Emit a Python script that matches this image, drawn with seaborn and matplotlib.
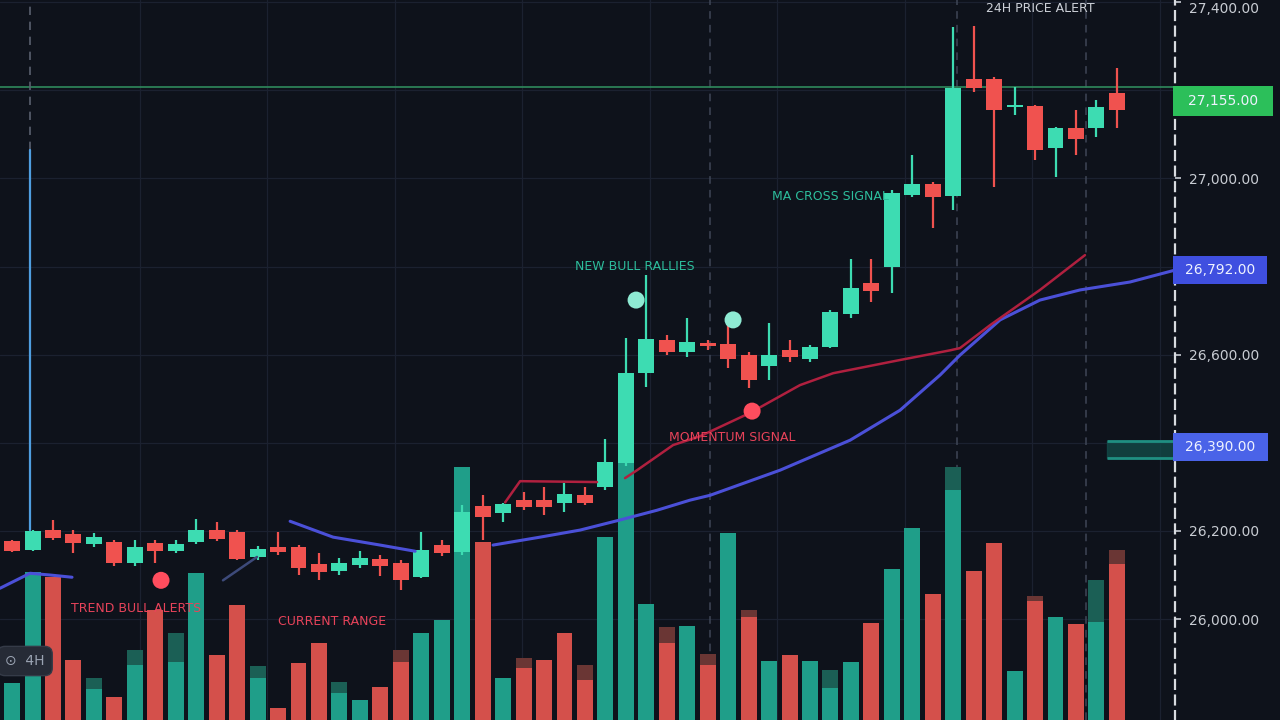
import numpy as np
import pandas as pd
import matplotlib
matplotlib.use("Agg")
import matplotlib.pyplot as plt
import matplotlib.patches as mpatches
import matplotlib.transforms as mtransforms
import seaborn as sns

# -------------------------
# Candle data (one entry per bar)
# -------------------------
opens = [26177, 26157, 26202, 26193, 26170, 26175, 26127, 26172, 26154, 26175,
         26202, 26197, 26141, 26163, 26163, 26125, 26109, 26122, 26136, 26127,
         26095, 26168, 26152, 26256, 26241, 26270, 26270, 26263, 26281, 26300,
         26354, 26558, 26633, 26606, 26626, 26624, 26599, 26574, 26610, 26590,
         26617, 26692, 26763, 26799, 26962, 26987, 26960, 27226, 27226, 27162,
         27164, 27069, 27114, 27114, 27194]
highs = [26179, 26202, 26225, 26202, 26195, 26179, 26179, 26179, 26179, 26227,
         26220, 26202, 26166, 26197, 26168, 26150, 26138, 26154, 26145, 26134,
         26197, 26179, 26259, 26281, 26263, 26288, 26300, 26309, 26300, 26408,
         26638, 26781, 26644, 26683, 26633, 26683, 26606, 26672, 26633, 26622,
         26701, 26817, 26817, 26974, 27053, 26992, 27344, 27346, 27230, 27207,
         27167, 27117, 27155, 27178, 27251]
lows = [26152, 26154, 26179, 26150, 26163, 26120, 26120, 26127, 26150, 26170,
        26177, 26134, 26134, 26145, 26100, 26088, 26100, 26116, 26097, 26066,
        26093, 26143, 26145, 26179, 26220, 26247, 26236, 26243, 26259, 26293,
        26347, 26526, 26599, 26595, 26610, 26570, 26524, 26542, 26583, 26583,
        26615, 26683, 26719, 26740, 26958, 26887, 26928, 27196, 26980, 27144,
        27042, 27003, 27053, 27094, 27114]
closes = [26154, 26200, 26184, 26172, 26186, 26127, 26163, 26154, 26170, 26202,
          26181, 26136, 26159, 26152, 26116, 26107, 26127, 26138, 26120, 26088,
          26157, 26150, 26243, 26231, 26261, 26254, 26254, 26284, 26263, 26356,
          26558, 26635, 26606, 26629, 26620, 26590, 26542, 26599, 26595, 26617,
          26697, 26751, 26744, 26967, 26987, 26958, 27205, 27205, 27155, 27167,
          27064, 27114, 27089, 27162, 27155]

volume = [37, 148, 143, 60, 31, 23, 55, 110, 58, 147, 65, 115, 42, 12, 57, 77,
          27, 20, 33, 58, 87, 100, 253, 178, 42, 52, 60, 87, 40, 183, 257, 116,
          77, 94, 55, 187, 103, 59, 65, 59, 32, 58, 97, 151, 192, 126, 230, 149,
          177, 49, 119, 103, 96, 98, 156]
# darker overhang seen on top of some volume bars
volume_prev = [0, 0, 0, 0, 42, 0, 70, 0, 87, 0, 0, 0, 54, 0, 0, 0, 38, 0, 0, 70,
               0, 0, 0, 0, 0, 62, 0, 0, 55, 0, 0, 0, 93, 0, 66, 0, 110, 0, 0, 0,
               50, 0, 0, 0, 0, 0, 253, 0, 0, 0, 124, 0, 0, 140, 170]
volume_side = list("uuddu" "duduu" "ddudd" "duudd" "uuudu" "ddddu"
                   "uudud" "ududu" "uuduu" "duddu" "dudud")

# moving averages (bar position, price)
ma_blue_x = [[-0.59, 0.88, 1.86, 2.93],
             [13.59, 15.69, 17.99, 19.70],
             [23.51, 25.81, 27.76, 29.72, 31.52, 33.14, 34.12, 37.54, 40.96,
              43.40, 45.36, 46.33, 48.29, 50.24, 52.20, 54.64, 56.84]]
ma_blue_y = [[26070, 26104, 26100, 26095],
             [26222, 26186, 26168, 26154],
             [26168, 26186, 26202, 26225, 26247, 26270, 26281, 26338, 26406,
              26474, 26554, 26599, 26679, 26724, 26747, 26765, 26792]]
ma_faint_x = [10.31, 11.97]
ma_faint_y = [26088, 26141]
ma_red_x = [[24.10, 24.83, 28.59],
            [29.96, 30.55, 32.31, 33.63, 36.07, 38.51, 40.13, 43.40, 45.85,
             46.33, 47.80, 50.24, 52.44]]
ma_red_y = [[26265, 26313, 26311],
            [26320, 26338, 26395, 26415, 26468, 26531, 26558, 26588, 26610,
             26615, 26667, 26747, 26826]]

# signal markers
marker_x = [30.50, 35.24, 36.17, 7.28]
marker_y = [26724, 26679, 26472, 26088]
marker_kind = ["bull", "bull", "bear", "bear"]

# annotations
notes = ["NEW BULL RALLIES", "MA CROSS SIGNAL", "TREND BULL ALERTS",
         "CURRENT RANGE", "MOMENTUM SIGNAL", "24H PRICE ALERT"]
notes_x = [30.45, 40.0, 6.06, 15.64, 35.19, 50.24]
notes_y = [26801, 26960, 26025, 25995, 26411, 27386]
notes_kind = ["bull", "bull", "bear", "bear", "bear", "info"]

# labels under the tags are hidden in the reference, so they stay blank
price_ticks = [26000, 26200, 26400, 26600, 26800, 27000, 27200, 27400]
price_labels = ["26,000.00", "26,200.00", "", "26,600.00",
                "", "27,000.00", "", "27,400.00"]

resistance = 27207
tag_values = [27176, 26792, 26390]
tag_texts = ["27,155.00", "26,792.00", "26,390.00"]

# -------------------------
# Style
# -------------------------
BG = "#0e121b"
UP = "#3ddcb2"
DN = "#f0524f"
VOL_UP = "#1f9e89"
VOL_DN = "#d4504b"
GRID = "#1b2130"

sns.set_theme(style="dark", rc={"axes.facecolor": BG, "figure.facecolor": BG,
                                "savefig.facecolor": BG})
plt.rcParams["font.family"] = ["DejaVu Sans"]

fig = plt.figure(figsize=(12.8, 7.2), dpi=100)
ax_vol = fig.add_axes([0, 0, 1175 / 1280, 1])
ax = ax_vol.twinx()

n = len(opens)
idx = np.arange(n)
XMIN, XMAX = -0.59, 56.84
ax.set_xlim(XMIN, XMAX)
ax.set_ylim(25771, 27405)

# -------------------------
# Background lines, drawn on the lower axes in price coordinates
# -------------------------
for p in price_ticks:
    ax_vol.plot([XMIN, XMAX], [p, p], color=GRID, lw=0.9, transform=ax.transData, zorder=0)
for gx in np.arange(6.25, XMAX, 6.23):
    ax_vol.axvline(gx, color=GRID, lw=0.9, zorder=0)
for vx in [34.1, 46.2, 52.5]:
    ax_vol.axvline(vx, color="#3f4656", lw=1.1, ls=(0, (5, 4)), zorder=0.5)
ax_vol.plot([XMIN, XMAX], [resistance, resistance], color="#2f8a5c", lw=1.2,
            transform=ax.transData, zorder=0.5)
ax_vol.plot([0.88, 0.88], [27064, 27405], color="#59606e", lw=1.2,
            ls=(0, (5, 4)), transform=ax.transData, zorder=0.5)
ax_vol.plot([0.88, 0.88], [26202, 27064], color="#4f9ee0", lw=1.6,
            transform=ax.transData, zorder=0.5)

# -------------------------
# Volume bars (seaborn)
# -------------------------
df = pd.DataFrame({"idx": idx, "vol": volume, "prev": volume_prev,
                   "side": volume_side})
ghost = df[df["prev"] > 0]
sns.barplot(data=ghost, x="idx", y="prev", hue="side", native_scale=True,
            palette={"u": "#1b5f55", "d": "#6a3634"}, width=0.78, dodge=False,
            saturation=1, legend=False, errorbar=None, linewidth=0,
            edgecolor="none", ax=ax_vol)
sns.barplot(data=df, x="idx", y="vol", hue="side", native_scale=True,
            palette={"u": VOL_UP, "d": VOL_DN}, width=0.78, dodge=False,
            saturation=1, legend=False, errorbar=None, linewidth=0,
            edgecolor="none", ax=ax_vol)
ax_vol.set_ylim(0, 720)
ax_vol.set_xlim(XMIN, XMAX)
ax_vol.set_yticks([])
ax_vol.set_xticks([])
ax_vol.set_xlabel("")
ax_vol.set_ylabel("")
for s in ax_vol.spines.values():
    s.set_visible(False)

# -------------------------
# Price panel
# -------------------------
# candles
cols = [UP if c >= o else DN for o, c in zip(opens, closes)]
ax.vlines(idx, lows, highs, colors=cols, lw=1.6, zorder=3)
bottoms = np.minimum(opens, closes)
heights = np.maximum(np.abs(np.array(closes) - np.array(opens)), 3)
ax.bar(idx, heights, bottom=bottoms, width=0.78, color=cols, linewidth=0,
       edgecolor="none", zorder=4)

# moving averages (seaborn)
for xs, ys in zip(ma_blue_x, ma_blue_y):
    sns.lineplot(x=xs, y=ys, ax=ax, color="#4b50d8", lw=2.2, sort=False,
                 estimator=None, zorder=5)
sns.lineplot(x=ma_faint_x, y=ma_faint_y, ax=ax, color="#3d4a7a", lw=1.8,
             sort=False, estimator=None, zorder=5)
for xs, ys in zip(ma_red_x, ma_red_y):
    sns.lineplot(x=xs, y=ys, ax=ax, color="#b0203f", lw=1.8, sort=False,
                 estimator=None, zorder=5)

# signal markers
sns.scatterplot(x=marker_x, y=marker_y, hue=marker_kind,
                palette={"bull": "#8eead3", "bear": "#ff4d5e"}, s=150,
                edgecolor="none", legend=False, ax=ax, zorder=6)

# annotations
note_colors = {"bull": "#2dbd9c", "bear": "#e8435a", "info": "#cdd1d8"}
for t, x, y, k in zip(notes, notes_x, notes_y, notes_kind):
    ax.text(x, y, t, color=note_colors[k], fontsize=9, ha="center",
            va="center", zorder=7)

# right price scale
ax.set_yticks(price_ticks)
ax.set_yticklabels(price_labels)
ax.tick_params(axis="y", colors="#c8ccd3", labelsize=10, length=4, pad=6,
               width=1.2, direction="out")
ax.get_yticklabels()[-1].set_va("top")
ax.set_xticks([])
for name, s in ax.spines.items():
    s.set_visible(name == "right")
ax.spines["right"].set_color("#d8dbe0")
ax.spines["right"].set_linestyle((0, (4, 3)))
ax.spines["right"].set_linewidth(1.6)
ax.set_ylabel("")

# teal band near the lower tag
ax.fill_between([53.52, XMAX], 26365, 26404, color="#124a48", alpha=0.8, zorder=2)
ax.hlines([26365, 26404], 53.52, XMAX, colors="#1f8f82", lw=2, zorder=2)

# price tags on the scale
trans = mtransforms.blended_transform_factory(ax.transAxes, ax.transData)
tag_style = [("#2cbf5a", 100, 68), ("#3f4fe0", 94, 64), ("#4a63e8", 95, 64)]
for val, txt, (fc, wpx, h) in zip(tag_values, tag_texts, tag_style):
    rect = mpatches.Rectangle((1 - 2 / 1175, val - h / 2), wpx / 1175, h,
                              transform=trans, facecolor=fc, edgecolor="none",
                              clip_on=False, zorder=8)
    ax.add_patch(rect)
    ax.text(1 + (wpx / 2 - 2) / 1175, val, txt, transform=trans, color="#eef2ff",
            fontsize=10, ha="center", va="center", clip_on=False, zorder=9)

# timeframe chip bottom-left
fig.text(0.004, 1 - 661 / 720, "⊙  4H", color="#9aa3b2", fontsize=10,
         ha="left", va="center",
         bbox=dict(boxstyle="round,pad=0.55", fc="#262b36", ec="#353b48"))

fig.savefig("out.png", dpi=100, facecolor=BG)
